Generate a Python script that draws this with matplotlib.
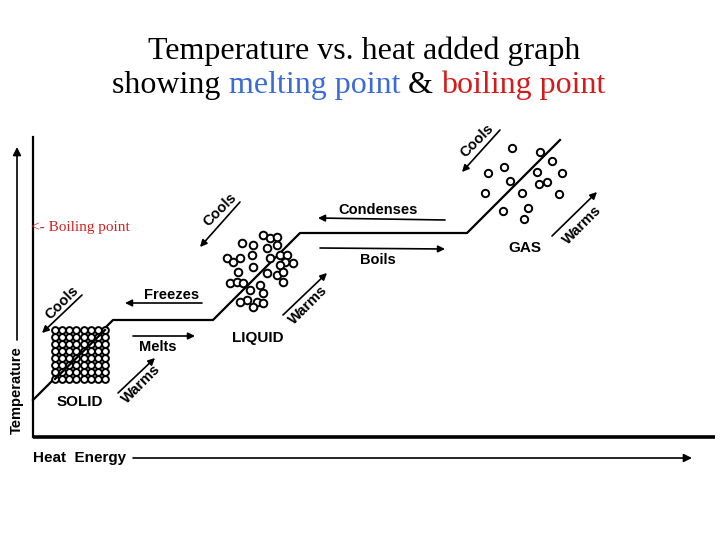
import matplotlib.pyplot as plt
import numpy as np

# heating curve outline (pixel coords, y grows downward)
curve_x = [33, 113, 213, 300, 467, 560]
curve_y = [400, 320, 320, 233, 233, 140]

# particles
solid_cols = 8
solid_rows = 8
solid_box = (55, 330, 105, 379)  # left, top, right, bottom
liquid_x = [263, 270, 277, 242, 253, 267, 277, 227, 233, 240, 252, 270, 280, 287,
            293, 285, 280, 253, 238, 267, 277, 283, 230, 237, 243, 283, 260, 250,
            263, 247, 257, 263, 240, 253]
liquid_y = [235, 238, 237, 243, 245, 248, 245, 258, 262, 258, 255, 258, 255, 255,
            263, 262, 265, 267, 272, 273, 275, 272, 283, 282, 283, 282, 285, 290,
            293, 300, 302, 303, 302, 307]
gas_x = [512, 540, 552, 504, 488, 537, 562, 510, 547, 539, 485, 522, 559, 528, 503, 524]
gas_y = [148, 152, 161, 167, 173, 172, 173, 181, 182, 184, 193, 193, 194, 208, 211, 219]

# process arrows: (tail, head, label, label position, rotation)
arrows = [
    ((82, 295), (42, 333), 'Cools', (62, 303), 45),
    ((118, 393), (155, 358), 'Warms', (141, 384), 45),
    ((202, 303), (125, 303), 'Freezes', (172, 295), 0),
    ((133, 336), (195, 336), 'Melts', (158, 347), 0),
    ((240, 202), (200, 247), 'Cools', (220, 210), 45),
    ((283, 315), (327, 273), 'Warms', (308, 305), 45),
    ((445, 220), (318, 218), 'Condenses', (378, 210), 0),
    ((320, 248), (445, 249), 'Boils', (378, 260), 0),
    ((500, 130), (462, 172), 'Cools', (477, 141), 45),
    ((552, 236), (597, 192), 'Warms', (582, 225), 45),
]

phases = ['SOLID', 'LIQUID', 'GAS']
phase_pos = [(80, 402), (258, 338), (525, 248)]

fig = plt.figure(figsize=(7.28, 5.46), dpi=100)
ax = fig.add_axes([0, 0, 1, 1])
ax.set_xlim(0, 728)
ax.set_ylim(546, 0)
ax.axis('off')

# title
serif = 'Liberation Serif'
ax.text(364, 59, 'Temperature vs. heat added graph', ha='center', va='baseline',
        fontsize=23, family=serif)
parts = [('showing ', 'black'), ('melting point', '#3b6bd6'), (' & ', 'black'),
         ('boiling point', '#d41a1a')]
fig.canvas.draw()
r = fig.canvas.get_renderer()
widths = []
for s, c in parts:
    t = ax.text(0, 0, s, fontsize=23, family=serif)
    widths.append(t.get_window_extent(r).width)
    t.remove()
x0 = 359 - sum(widths) / 2
for (s, c), w in zip(parts, widths):
    ax.text(x0, 93, s, ha='left', va='baseline', fontsize=23, family=serif, color=c)
    x0 += w

# axes
ax.plot([33, 33], [137, 437], color='black', lw=1.6)
ax.plot([33, 715], [437, 437], color='black', lw=2.6, solid_capstyle='butt')
ax.annotate('', xy=(17, 147), xytext=(17, 340),
            arrowprops=dict(arrowstyle='-|>', color='black', lw=1.2,
                            mutation_scale=12, shrinkA=0, shrinkB=0))
ax.text(17, 390, 'Temperature', rotation=90, ha='center', va='center',
        fontsize=10.5, weight='bold', family='Liberation Sans')
ax.text(33, 458, 'Heat  Energy', ha='left', va='center',
        fontsize=11, weight='bold', family='Liberation Sans')
ax.annotate('', xy=(692, 458), xytext=(133, 458),
            arrowprops=dict(arrowstyle='-|>', color='black', lw=1.2,
                            mutation_scale=12, shrinkA=0, shrinkB=0))

ax.text(31, 228, '<- Boiling point', ha='left', va='center', fontsize=11,
        family=serif, color='#d42020')

# curve
ax.plot(curve_x, curve_y, color='black', lw=1.6)

# particles
l, t, rr, b = solid_box
gx, gy = np.meshgrid(np.linspace(l, rr, solid_cols), np.linspace(t, b, solid_rows))
ax.scatter(gx.ravel(), gy.ravel(), s=24, facecolor='white', edgecolor='black',
           linewidths=1.4, zorder=3)
ax.plot([55, 105], [379, 330], color='black', lw=1.6, zorder=4)
ax.scatter(liquid_x, liquid_y, s=30, facecolor='white', edgecolor='black',
           linewidths=1.4, zorder=3)
ax.scatter(gas_x, gas_y, s=28, facecolor='white', edgecolor='black',
           linewidths=1.4, zorder=3)

for (tail, head, label, pos, rot) in arrows:
    ax.annotate('', xy=head, xytext=tail,
                arrowprops=dict(arrowstyle='-|>', color='black', lw=1.2,
                                mutation_scale=10, shrinkA=0, shrinkB=0))
    ax.text(pos[0], pos[1], label, rotation=rot, ha='center', va='center',
            fontsize=10.5, weight='bold', family='Liberation Sans',
            rotation_mode='anchor')

for name, (px, py) in zip(phases, phase_pos):
    ax.text(px, py, name, ha='center', va='center', fontsize=11,
            weight='bold', family='Liberation Sans')

fig.savefig('out.png', dpi=100)
